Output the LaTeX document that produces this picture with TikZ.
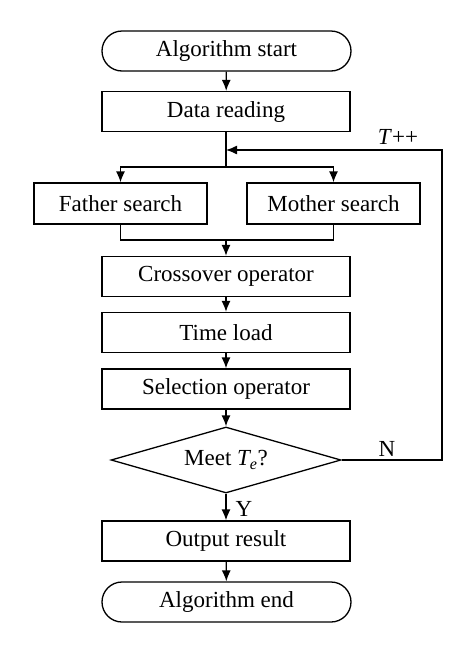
\documentclass[tikz,border=0pt]{standalone}
\usepackage{amsmath}
\usepackage{fontspec}
\setmainfont{Liberation Serif}
\usetikzlibrary{shapes.geometric,shapes.misc,arrows.meta}

\tikzset{
    stepbox/.style={draw, rectangle, minimum width=248pt, minimum height=40pt, inner sep=0pt},
    searchbox/.style={draw, rectangle, minimum width=173pt, minimum height=41pt, inner sep=0pt},
    termbox/.style={draw, rounded rectangle, minimum width=249pt, minimum height=40pt, inner sep=0pt},
    testbox/.style={draw, diamond, aspect=3.48, minimum width=230pt, minimum height=66pt, inner sep=0pt},
    flow/.style={-{Latex[length=11pt,width=9pt]}}
}

\begin{document}
\begin{tikzpicture}[x=1pt, y=-1pt, line width=1.3pt, font=\fontsize{23}{27}\selectfont]

\useasboundingbox (0,0) rectangle (474,654);

\node[termbox] (start) at (226.5,51) {Algorithm start};
\node[stepbox] (read) at (226,111.5) {Data reading};
\node[searchbox] (father) at (120.5,203.5) {Father search};
\node[searchbox] (mother) at (333.5,203.5) {Mother search};
\node[stepbox] (cross) at (226,276.5) {Crossover operator};
\node[stepbox] (time) at (226,332.5) {Time load};
\node[stepbox] (select) at (226,389) {Selection operator};
\node[testbox] (meet) at (226,460) {Meet $\textit{T}_{\textit{e}}$?};
\node[stepbox] (output) at (226,541) {Output result};
\node[termbox] (end) at (226.5,602) {Algorithm end};

\coordinate (back) at (226,150);
\coordinate (corner) at (442,150);
\coordinate (split) at (226,167);
\coordinate (join) at (226,240);

\draw[flow] (start) -- (read);
\draw (read) -- (split);
\draw[flow] (split) -| (father.north);
\draw[flow] (split) -| (mother.north);
\draw (father.south) |- (join) -| (mother.south);
\draw[flow] (join) -- (cross);
\draw[flow] (cross) -- (time);
\draw[flow] (time) -- (select);
\draw[flow] (select) -- (meet);
\draw[flow] (meet) -- (output);
\draw[flow] (output) -- (end);
\draw[flow] (meet.east) -| (corner) -- (back);

\node (inc) at (398,137) {\textit{T}++};
\node (no) at (387,449) {N};
\node (yes) at (244,509) {Y};

\end{tikzpicture}
\end{document}
